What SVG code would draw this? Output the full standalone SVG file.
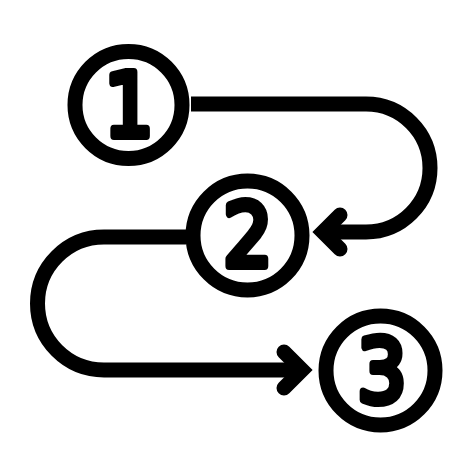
<svg xmlns="http://www.w3.org/2000/svg" width="474" height="474" viewBox="0 0 474 474">
<style>
.ring{fill:none;stroke:#000;stroke-width:15}
.conn{fill:none;stroke:#000;stroke-width:15;stroke-linecap:butt}
.head{fill:none;stroke:#000;stroke-width:15;stroke-linecap:round;stroke-linejoin:miter}
.num{font-family:"DejaVu Sans",sans-serif;font-weight:normal;font-size:88px;fill:#000;stroke:#000;stroke-width:8;stroke-linejoin:round;stroke-linecap:round;text-anchor:middle}
</style>
<rect width="474" height="474" fill="#fff"/>
<g id="connectors">
<path class="conn" d="M191,104 H366 A64,64 0 0 1 366,232 H322"/>
<path class="head" d="M340,215 L323,232 L340,249"/>
<path class="conn" d="M186,237 H104 A66.5,66.5 0 0 0 104,370 H301"/>
<path class="head" d="M284,352 L302,370 L284,388"/>
</g>
<g id="node1">
<circle class="ring" cx="128.5" cy="105" r="53.5"/>
<text class="num" transform="translate(129,136) scale(0.88,1)" x="0" y="0">1</text>
</g>
<g id="node2">
<circle class="ring" cx="247.5" cy="235.5" r="54.5"/>
<text class="num" transform="translate(248,266) scale(0.88,1)" x="0" y="0">2</text>
</g>
<g id="node3">
<circle class="ring" cx="380.5" cy="370.5" r="54.5"/>
<text class="num" transform="translate(382,402) scale(0.88,1)" x="0" y="0">3</text>
</g>
</svg>
